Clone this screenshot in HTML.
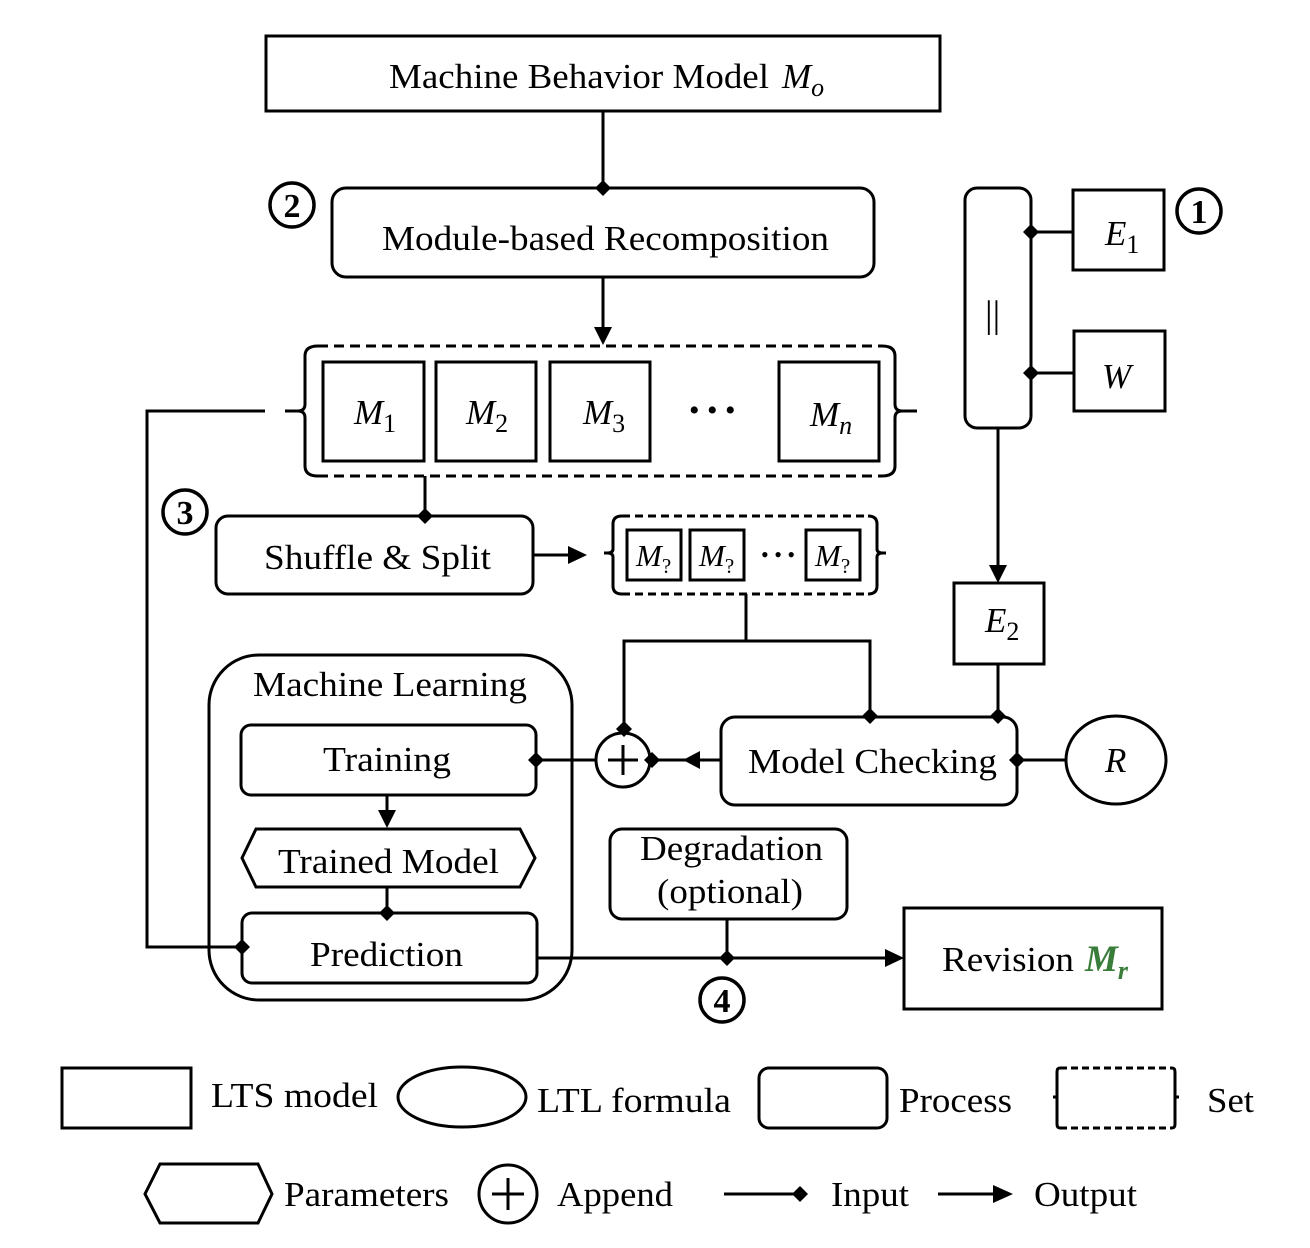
<!DOCTYPE html>
<html><head><meta charset="utf-8"><style>
html,body{margin:0;padding:0;background:#fff;}
svg{display:block;}
text{font-family:"Liberation Serif",serif;fill:#000;}
.i{font-style:italic;}
</style></head><body>
<svg width="1310" height="1248" viewBox="0 0 1310 1248" xmlns="http://www.w3.org/2000/svg">
<g fill="none" stroke="#000" stroke-width="3">
<rect x="266" y="36" width="674" height="75"/>
<line x1="603" y1="111" x2="603" y2="188"/>
<rect x="332" y="188" width="542" height="89" rx="14"/>
<line x1="603" y1="277" x2="603" y2="330"/>
<path d="M318,346 L882,346" stroke-dasharray="10,6"/>
<path d="M318,476 L882,476" stroke-dasharray="10,6"/>
<path d="M318,346 Q305,346 305,356 L305,404 Q305,411 298,411 Q305,411 305,418 L305,466 Q305,476 318,476"/>
<path d="M882,346 Q895,346 895,356 L895,404 Q895,411 902,411 Q895,411 895,418 L895,466 Q895,476 882,476"/>
<line x1="902" y1="411" x2="917" y2="411"/>
<line x1="285" y1="411" x2="298" y2="411"/>
<rect x="323" y="362" width="101" height="99"/>
<rect x="436" y="362" width="100" height="99"/>
<rect x="550" y="362" width="100" height="99"/>
<rect x="779" y="362" width="100" height="99"/>
<polyline points="265,411 147,411 147,947 242,947"/>
<line x1="425" y1="476" x2="425" y2="516"/>
<rect x="216" y="516" width="317" height="78" rx="12"/>
<line x1="533" y1="555" x2="575" y2="555"/>
<path d="M622,516 L868,516" stroke-dasharray="8,5"/>
<path d="M622,594 L868,594" stroke-dasharray="8,5"/>
<path d="M622,516 Q613,516 613,524 L613,549 Q613,553 607,553 Q613,553 613,557 L613,586 Q613,594 622,594"/>
<path d="M868,516 Q877,516 877,524 L877,549 Q877,553 883,553 Q877,553 877,557 L877,586 Q877,594 868,594"/>
<line x1="604" y1="553" x2="607" y2="553"/>
<line x1="883" y1="553" x2="886" y2="553"/>
<rect x="627" y="530" width="54" height="50"/>
<rect x="690" y="530" width="54" height="50"/>
<rect x="806" y="530" width="54" height="50"/>
<line x1="746" y1="594" x2="746" y2="641"/>
<polyline points="624,730 624,641 870,641 870,716"/>
<circle cx="623" cy="760" r="27"/>
<line x1="608" y1="760" x2="638" y2="760"/>
<line x1="623" y1="745" x2="623" y2="775"/>
<line x1="652" y1="760" x2="721" y2="760"/>
<line x1="536" y1="760" x2="596" y2="760"/>
<rect x="721" y="717" width="296" height="88" rx="14"/>
<line x1="1017" y1="760" x2="1066" y2="760"/>
<ellipse cx="1116" cy="760" rx="50" ry="44"/>
<rect x="954" y="583" width="90" height="81"/>
<line x1="998" y1="664" x2="998" y2="716"/>
<rect x="965" y="188" width="66" height="240" rx="12"/>
<line x1="998" y1="428" x2="998" y2="568"/>
<rect x="1073" y="190" width="91" height="80"/>
<line x1="1031" y1="232" x2="1073" y2="232"/>
<rect x="1074" y="331" width="91" height="80"/>
<line x1="1031" y1="373" x2="1074" y2="373"/>
<rect x="209" y="655" width="363" height="345" rx="50"/>
<rect x="241" y="725" width="295" height="70" rx="10"/>
<line x1="387" y1="795" x2="387" y2="815"/>
<polygon points="256,829 520,829 535,858 520,887 256,887 242,858"/>
<line x1="387" y1="887" x2="387" y2="913"/>
<rect x="242" y="913" width="295" height="70" rx="10"/>
<line x1="537" y1="958" x2="890" y2="958"/>
<rect x="610" y="829" width="237" height="90" rx="12"/>
<line x1="727" y1="919" x2="727" y2="958"/>
<rect x="904" y="908" width="258" height="101"/>
<g stroke-width="3.5">
<circle cx="292" cy="205" r="22"/>
<circle cx="1199" cy="211" r="22"/>
<circle cx="185" cy="512" r="22"/>
<circle cx="722" cy="1000" r="22"/>
</g>
<rect x="62" y="1068" width="129" height="60"/>
<ellipse cx="462" cy="1097" rx="64" ry="30"/>
<rect x="759" y="1068" width="128" height="60" rx="10"/>
<path d="M1060,1068 L1172,1068" stroke-dasharray="7,4"/>
<path d="M1060,1128 L1172,1128" stroke-dasharray="7,4"/>
<path d="M1060,1068 Q1057,1068 1057,1072 L1057,1124 Q1057,1128 1060,1128"/>
<path d="M1172,1068 Q1175,1068 1175,1072 L1175,1124 Q1175,1128 1172,1128"/>
<line x1="1053" y1="1097" x2="1057" y2="1097"/>
<line x1="1175" y1="1097" x2="1179" y2="1097"/>
<polygon points="160,1164 258,1164 272,1194 258,1223 160,1223 145,1194"/>
<circle cx="508" cy="1194" r="29"/>
<line x1="492" y1="1194" x2="524" y2="1194"/>
<line x1="508" y1="1178" x2="508" y2="1210"/>
<line x1="724" y1="1194" x2="795" y2="1194"/>
<line x1="938" y1="1194" x2="995" y2="1194"/>
</g>
<g fill="#000">
<path d="M594,327 L612,327 L603,345z"/>
<path d="M568,546 L568,564 L587,555z"/>
<path d="M989,565 L1007,565 L998,583z"/>
<path d="M378,810 L396,810 L387,828z"/>
<path d="M885,949 L885,967 L904,958z"/>
<path d="M700,751 L700,769 L683,760z"/>
<path d="M993,1185 L993,1203 L1013,1194z"/>
<path d="M603,180 l8,8 l-8,8 l-8,-8z"/>
<path d="M425,508 l8,8 l-8,8 l-8,-8z"/>
<path d="M624,721 l8,8 l-8,8 l-8,-8z"/>
<path d="M870,708 l8,8 l-8,8 l-8,-8z"/>
<path d="M998,708 l8,8 l-8,8 l-8,-8z"/>
<path d="M652,752 l8,8 l-8,8 l-8,-8z"/>
<path d="M536,752 l8,8 l-8,8 l-8,-8z"/>
<path d="M1017,752 l8,8 l-8,8 l-8,-8z"/>
<path d="M1031,224 l8,8 l-8,8 l-8,-8z"/>
<path d="M1031,365 l8,8 l-8,8 l-8,-8z"/>
<path d="M387,905 l8,8 l-8,8 l-8,-8z"/>
<path d="M242,939 l8,8 l-8,8 l-8,-8z"/>
<path d="M727,950 l8,8 l-8,8 l-8,-8z"/>
<path d="M800,1186 l8,8 l-8,8 l-8,-8z"/>
</g>
<g font-size="35">
<text x="389" y="88" textLength="380" lengthAdjust="spacingAndGlyphs">Machine Behavior Model</text>
<text x="782" y="88" class="i">M<tspan font-size="26" dy="8">o</tspan></text>
<text x="382" y="250" textLength="447" lengthAdjust="spacingAndGlyphs">Module-based Recomposition</text>
<text x="354" y="424" class="i">M<tspan font-size="26" dy="8" font-style="normal">1</tspan></text>
<text x="466" y="424" class="i">M<tspan font-size="26" dy="8" font-style="normal">2</tspan></text>
<text x="583" y="424" class="i">M<tspan font-size="26" dy="8" font-style="normal">3</tspan></text>
<text x="810" y="426" class="i">M<tspan font-size="26" dy="8">n</tspan></text>
<text x="689" y="420" font-size="30">• • •</text>
<text x="264" y="569" textLength="227" lengthAdjust="spacingAndGlyphs">Shuffle &amp; Split</text>
<text x="636" y="566" class="i" font-size="31">M<tspan font-size="21" dy="7" font-style="normal">?</tspan></text>
<text x="699" y="566" class="i" font-size="31">M<tspan font-size="21" dy="7" font-style="normal">?</tspan></text>
<text x="815" y="566" class="i" font-size="31">M<tspan font-size="21" dy="7" font-style="normal">?</tspan></text>
<text x="761" y="562" font-size="22">• • •</text>
<text x="985" y="327" font-size="38">||</text>
<text x="1105" y="245" class="i">E<tspan font-size="26" dy="8" font-style="normal">1</tspan></text>
<text x="1102" y="388" class="i">W</text>
<text x="985" y="632" class="i">E<tspan font-size="26" dy="8" font-style="normal">2</tspan></text>
<text x="1105" y="772" class="i">R</text>
<text x="748" y="773" textLength="249" lengthAdjust="spacingAndGlyphs">Model Checking</text>
<text x="253" y="696" textLength="274" lengthAdjust="spacingAndGlyphs">Machine Learning</text>
<text x="323" y="771" textLength="128" lengthAdjust="spacingAndGlyphs">Training</text>
<text x="278" y="873" textLength="221" lengthAdjust="spacingAndGlyphs">Trained Model</text>
<text x="310" y="966" textLength="153" lengthAdjust="spacingAndGlyphs">Prediction</text>
<text x="640" y="860" textLength="183" lengthAdjust="spacingAndGlyphs">Degradation</text>
<text x="657" y="903" textLength="146" lengthAdjust="spacingAndGlyphs">(optional)</text>
<text x="942" y="971" textLength="132" lengthAdjust="spacingAndGlyphs">Revision</text>
<text x="1085" y="971" class="i" font-weight="bold" style="fill:#3a7d3a" font-size="37">M<tspan font-size="26" dy="8" style="fill:#3a7d3a">r</tspan></text>
</g>
<g font-size="34" text-anchor="middle" font-weight="bold">
<text x="292" y="217">2</text>
<text x="1199" y="223">1</text>
<text x="185" y="524">3</text>
<text x="722" y="1012">4</text>
</g>
<g font-size="35">
<text x="211" y="1107" textLength="167" lengthAdjust="spacingAndGlyphs">LTS model</text>
<text x="537" y="1112" textLength="194" lengthAdjust="spacingAndGlyphs">LTL formula</text>
<text x="899" y="1112" textLength="113" lengthAdjust="spacingAndGlyphs">Process</text>
<text x="1207" y="1112" textLength="47" lengthAdjust="spacingAndGlyphs">Set</text>
<text x="284" y="1206" textLength="165" lengthAdjust="spacingAndGlyphs">Parameters</text>
<text x="557" y="1206" textLength="116" lengthAdjust="spacingAndGlyphs">Append</text>
<text x="831" y="1206" textLength="78" lengthAdjust="spacingAndGlyphs">Input</text>
<text x="1034" y="1206" textLength="103" lengthAdjust="spacingAndGlyphs">Output</text>
</g>
</svg>
</body></html>
